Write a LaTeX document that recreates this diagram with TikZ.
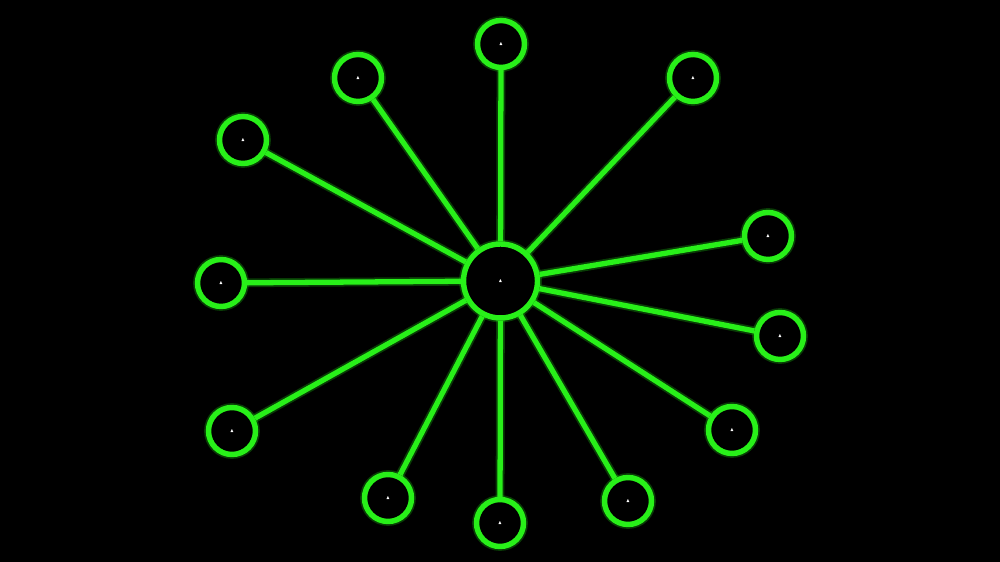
\documentclass[tikz,border=0pt]{standalone}
\usepackage{amssymb}
\usepackage{xcolor}
\usepackage{tikz}
\usetikzlibrary{arrows.meta}

\definecolor{neon}{RGB}{40,240,25}
\definecolor{glow}{RGB}{30,200,20}

\begin{document}
\begin{tikzpicture}[
	halo/.style={preaction={draw=glow, line width=5pt, opacity=0.3}},
	leaf/.style={circle, draw=neon, line width=3.1pt, fill=black, minimum size=0.94cm, inner sep=0pt, text=white, halo},
	hub/.style={circle, draw=neon, line width=3.1pt, fill=black, minimum size=1.48cm, inner sep=0pt, text=white, halo},
	spoke/.style={draw=neon, line width=3pt, halo}
	]
	
	% Background
	\fill[black] (0,0) rectangle (20,11.24);
	\useasboundingbox (0,0) rectangle (20,11.24);
	
	% Define nodes
	\node (centre) [hub] at (10.01,5.62) {\scalebox{0.3}{$\blacktriangle$}};
	\node (top) [leaf] at (10.02,10.36) {\scalebox{0.3}{$\blacktriangle$}};
	\node (upLeftA) [leaf] at (7.16,9.68) {\scalebox{0.3}{$\blacktriangle$}};
	\node (upLeftB) [leaf] at (4.86,8.44) {\scalebox{0.3}{$\blacktriangle$}};
	\node (left) [leaf] at (4.42,5.58) {\scalebox{0.3}{$\blacktriangle$}};
	\node (lowLeftB) [leaf] at (4.64,2.62) {\scalebox{0.3}{$\blacktriangle$}};
	\node (lowLeftA) [leaf] at (7.76,1.28) {\scalebox{0.3}{$\blacktriangle$}};
	\node (bottom) [leaf] at (10,0.78) {\scalebox{0.3}{$\blacktriangle$}};
	\node (lowRightA) [leaf] at (12.56,1.22) {\scalebox{0.3}{$\blacktriangle$}};
	\node (lowRightB) [leaf] at (14.64,2.64) {\scalebox{0.3}{$\blacktriangle$}};
	\node (rightLow) [leaf] at (15.6,4.52) {\scalebox{0.3}{$\blacktriangle$}};
	\node (rightHigh) [leaf] at (15.36,6.52) {\scalebox{0.3}{$\blacktriangle$}};
	\node (upRight) [leaf] at (13.86,9.68) {\scalebox{0.3}{$\blacktriangle$}};
	
	% Draw spokes
	\path [spoke] (centre) -- (top);
	\path [spoke] (centre) -- (upLeftA);
	\path [spoke] (centre) -- (upLeftB);
	\path [spoke] (centre) -- (left);
	\path [spoke] (centre) -- (lowLeftB);
	\path [spoke] (centre) -- (lowLeftA);
	\path [spoke] (centre) -- (bottom);
	\path [spoke] (centre) -- (lowRightA);
	\path [spoke] (centre) -- (lowRightB);
	\path [spoke] (centre) -- (rightLow);
	\path [spoke] (centre) -- (rightHigh);
	\path [spoke] (centre) -- (upRight);
	
\end{tikzpicture}
\end{document}
